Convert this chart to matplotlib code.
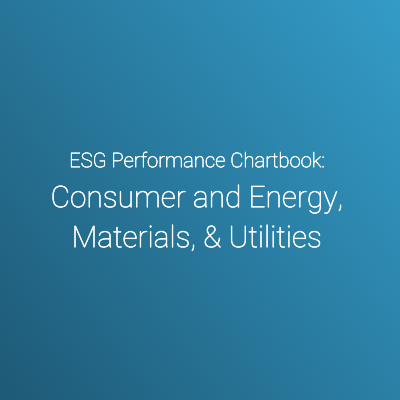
import numpy as np
import matplotlib
matplotlib.use("Agg")
import matplotlib.pyplot as plt
import matplotlib.patheffects as pe
from matplotlib.colors import LinearSegmentedColormap

# Text content of the title card
title_lines = ["ESG Performance Chartbook:",
               "Consumer and Energy,",
               "Materials, & Utilities"]
line_sizes = [14.6, 21.5, 21.5]
line_y = [0.582, 0.482, 0.382]  # baselines in figure fraction

color_dark = "#1f5a77"
color_light = "#349cc8"

fig = plt.figure(figsize=(4, 4), dpi=100)
ax = fig.add_axes([0, 0, 1, 1])
ax.set_axis_off()

n = 400
x = np.linspace(0, 1, n)
y = np.linspace(0, 1, n)
X, Y = np.meshgrid(x, y)
T = 0.58 * X + 0.42 * Y
cmap = LinearSegmentedColormap.from_list("bg", [color_dark, color_light])
ax.imshow(T, cmap=cmap, origin="lower", extent=[0, 1, 0, 1], aspect="auto",
          vmin=0, vmax=1, interpolation="bilinear")
ax.set_xlim(0, 1)
ax.set_ylim(0, 1)

for txt, s, yy in zip(title_lines, line_sizes, line_y):
    fig.text(0.4925, yy, txt, ha="center", va="baseline", color="white",
             fontsize=s, family=["Roboto", "DejaVu Sans"], fontweight="light",
             path_effects=[pe.withStroke(linewidth=0.4, foreground="white")])

fig.savefig("out.png", dpi=100)
